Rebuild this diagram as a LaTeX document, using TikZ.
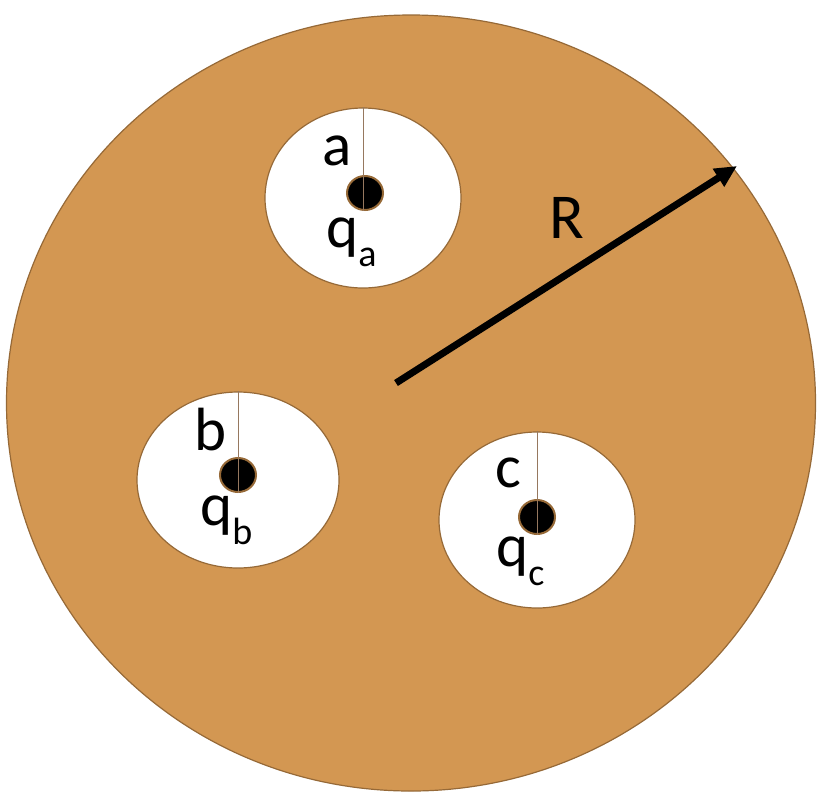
\documentclass[tikz,border=0pt]{standalone}
\usepackage{fontspec}
\setmainfont{Carlito}
\usetikzlibrary{shapes.geometric,arrows.meta}
\definecolor{metal}{RGB}{211,151,82}
\definecolor{rim}{RGB}{150,105,55}
\definecolor{wire}{RGB}{150,120,95}
\tikzset{
  cavity/.style={ellipse,draw=rim,line width=1.2pt,fill=white,inner sep=0pt},
  charge/.style={ellipse,draw=rim,line width=2pt,fill=black,minimum width=36pt,minimum height=34pt,inner sep=0pt},
  thread/.style={draw=wire,line width=1pt},
  lbl/.style={font=\fontsize{61}{61}\selectfont,inner sep=0pt,anchor=base},
}
\newcommand{\qsub}[1]{q\raisebox{-19pt}{\fontsize{38}{38}\selectfont #1}}
\begin{document}
\begin{tikzpicture}[x=1pt,y=-1pt]
\useasboundingbox (0,0) rectangle (821,796);
\fill[white] (0,0) rectangle (821,796);
\node[ellipse,draw=rim,line width=1.2pt,fill=metal,minimum width=809pt,minimum height=776pt,inner sep=0pt] (sphere) at (411,403) {};
% cavity a
\node[cavity,minimum width=196pt,minimum height=180pt] (ca) at (363,198) {};
\node[charge] (qa) at (365,193) {};
\draw[thread] (ca.north) -- (ca.north |- qa.south);
\node[lbl] (la) at (337,165) {a};
\node[lbl,anchor=base west] (lqa) at (326,247) {\qsub{a}};
% cavity b
\node[cavity,minimum width=202pt,minimum height=176pt] (cb) at (238,480) {};
\node[charge] (qb) at (238,475) {};
\draw[thread] (cb.north) -- (cb.north |- qb.south);
\node[lbl] (lb) at (211,450) {b};
\node[lbl,anchor=base west] (lqb) at (200,525) {\qsub{b}};
% cavity c
\node[cavity,minimum width=196pt,minimum height=176pt] (cc) at (537,520) {};
\node[charge] (qc) at (537,517) {};
\draw[thread] (cc.north) -- (cc.north |- qc.south);
\node[lbl] (lc) at (508,487) {c};
\node[lbl,anchor=base west] (lqc) at (496,566) {\qsub{c}};
% radius arrow
\coordinate (o) at (396,383);
\coordinate (edge) at (737,166);
\draw[line width=7pt,-{Triangle[length=22pt,width=20pt]}] (o) -- (edge);
\node[lbl,font=\fontsize{64}{64}\selectfont] (lR) at (567,238) {R};
\end{tikzpicture}
\end{document}
